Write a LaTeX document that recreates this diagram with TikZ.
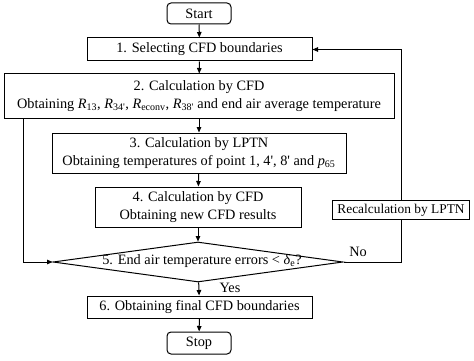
\documentclass[tikz,border=0pt]{standalone}
\usepackage{fontspec}
\setmainfont{Liberation Serif}
\usetikzlibrary{arrows.meta,shapes.geometric}
\begin{document}
\begin{tikzpicture}[x=1pt,y=-1pt,
  every node/.style={font=\fontsize{14.3}{18}\selectfont},
  box/.style={draw,line width=1pt,inner sep=0pt,align=center},
  term/.style={box,rounded corners=4pt},
  arr/.style={line width=1pt,-{Triangle[length=5.5pt,width=4.5pt]}},
  ln/.style={line width=1pt}]
\useasboundingbox (0,0) rectangle (474,361);
\node[term,minimum width=64pt,minimum height=21pt] (st) at (199,13.5) {Start};
\node[box,minimum width=225pt,minimum height=23pt] (b1) at (199.5,49.5) {1. Selecting CFD boundaries};
\node[box,minimum width=390pt,minimum height=44pt] (b2) at (199,96) {2. Calculation by CFD\\Obtaining \textit{R}\textsubscript{13}, \textit{R}\textsubscript{34\textquotesingle}, \textit{R}\textsubscript{econv}, \textit{R}\textsubscript{38\textquotesingle} and end air average temperature};
\node[box,minimum width=294pt,minimum height=40pt] (b3) at (199,153) {3. Calculation by LPTN\\Obtaining temperatures of point 1, 4\textquotesingle, 8\textquotesingle{} and \textit{p}\textsubscript{65}};
\node[box,minimum width=206pt,minimum height=40pt] (b4) at (198,207) {4. Calculation by CFD\\Obtaining new CFD results};
\node[box,minimum width=137pt,minimum height=19pt,font=\fontsize{13.4}{16}\selectfont] (rc) at (401,210) {Recalculation by LPTN};
\node[diamond,draw,line width=1pt,minimum width=290pt,minimum height=40pt,inner sep=0pt] (d5) at (198,262) {};
\node (d5t) at (202,261) {5. End air temperature errors < \textit{δ}\textsubscript{e}?};
\node[box,minimum width=225pt,minimum height=22pt] (b6) at (199.5,307) {6. Obtaining final CFD boundaries};
\node[term,minimum width=64pt,minimum height=22pt] (sp) at (199,343) {Stop};
\node (no) at (358,252) {No};
\node (yes) at (230,288) {Yes};
\coordinate (lt) at (23,118);
\draw[arr] (st) -- (b1);
\draw[arr] (b1) -- (b2);
\draw[arr] (b2) -- (b3);
\draw[arr] (b3) -- (b4);
\draw[arr] (b4) -- (d5);
\draw[arr] (d5) -- (b6);
\draw[arr] (b6) -- (sp);
\draw[arr] (lt) |- (d5.west);
\draw[ln] (d5.east) -| (rc.south);
\draw[arr] (rc.north) |- (b1.east);
\end{tikzpicture}
\end{document}
